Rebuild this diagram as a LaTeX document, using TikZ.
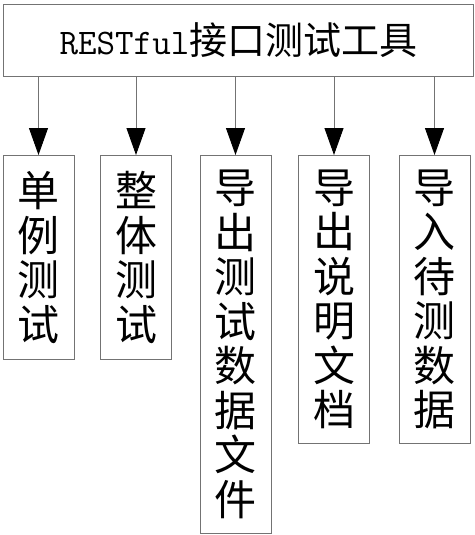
\documentclass[tikz,border=0pt]{standalone}
\usepackage{fontspec}
\newfontfamily\cjk{Noto Sans CJK SC}
\usetikzlibrary{positioning,arrows.meta}

\begin{document}
\begin{tikzpicture}[x=1pt,y=-1pt,
    -{Triangle[length=27pt,width=19pt,color=black]},
    line width=0.9pt,
    box/.style={draw=black!55,inner sep=0pt,minimum width=71pt,anchor=north,
        align=center,font=\cjk\fontsize{42}{44.5}\selectfont}]
    \useasboundingbox (0,0) rectangle (474,535);
    \node[box,minimum width=470pt,minimum height=72pt,anchor=north west,
        font=\cjk\fontsize{38}{40}\selectfont] (tool) at (3,4)
        {{\ttfamily\fontsize{36}{40}\selectfont RESTful}接口测试工具};
    \node[box,minimum height=204pt] (single) at (38.5,155) {单\\例\\测\\试};
    \node[box,minimum height=204pt] (whole) at (136,155) {整\\体\\测\\试};
    \node[box,minimum height=378pt] (exportdata) at (235.5,155) {导\\出\\测\\试\\数\\据\\文\\件};
    \node[box,minimum height=288pt] (exportdoc) at (334,155) {导\\出\\说\\明\\文\\档};
    \node[box,minimum height=288pt] (import) at (434.5,155) {导\\入\\待\\测\\数\\据};
    \foreach \n in {single,whole,exportdata,exportdoc,import}
        \draw[black!55] (tool.south -| \n.north) -- (\n.north);
\end{tikzpicture}
\end{document}
